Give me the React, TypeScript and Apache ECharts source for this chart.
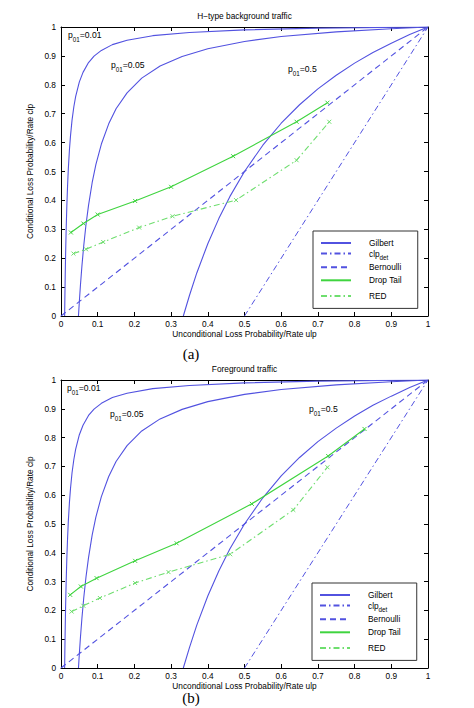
import React, { useEffect, useRef } from "react";
import * as echarts from "echarts";

// ---- data ----------------------------------------------------------------
type Pt = [number, number];

// Gilbert model curves (ulp, clp) for fixed p01
const gilbertP001: Pt[] = [
  [0.0099, 0], [0.0105, 0.058], [0.0115, 0.14], [0.0125, 0.21], [0.014, 0.296],
  [0.016, 0.385], [0.018, 0.454], [0.02, 0.51], [0.023, 0.575], [0.026, 0.625],
  [0.03, 0.677], [0.035, 0.724], [0.04, 0.76], [0.05, 0.81], [0.06, 0.843],
  [0.075, 0.877], [0.09, 0.899], [0.11, 0.919], [0.14, 0.939], [0.18, 0.954],
  [0.25, 0.97], [0.35, 0.981], [0.5, 0.99], [0.7, 0.996], [1, 1],
];
const gilbertP005: Pt[] = [
  [0.0476, 0], [0.05, 0.05], [0.053, 0.107], [0.057, 0.173], [0.062, 0.244],
  [0.068, 0.315], [0.075, 0.383], [0.085, 0.462], [0.095, 0.524], [0.11, 0.595],
  [0.13, 0.665], [0.15, 0.717], [0.18, 0.772], [0.22, 0.823], [0.27, 0.865],
  [0.33, 0.898], [0.4, 0.925], [0.5, 0.95], [0.6, 0.967], [0.75, 0.983],
  [0.9, 0.994], [1, 1],
];
const gilbertP05: Pt[] = [
  [0.3333, 0], [0.35, 0.071], [0.37, 0.149], [0.4, 0.25], [0.43, 0.337],
  [0.46, 0.413], [0.5, 0.5], [0.55, 0.591], [0.6, 0.667], [0.65, 0.731],
  [0.7, 0.786], [0.75, 0.833], [0.8, 0.875], [0.85, 0.912], [0.9, 0.944],
  [0.95, 0.974], [1, 1],
];
const clpDet: Pt[] = [[0.5, 0], [1, 1]];
const bernoulli: Pt[] = [[0, 0], [1, 1]];

// measured queues, H-type background traffic
const dropTailA: Pt[] = [
  [0.027, 0.289], [0.061, 0.32], [0.1, 0.351], [0.202, 0.398], [0.3, 0.447],
  [0.469, 0.553], [0.642, 0.672], [0.726, 0.738],
];
const redA: Pt[] = [
  [0.034, 0.216], [0.068, 0.231], [0.115, 0.256], [0.213, 0.306], [0.304, 0.345],
  [0.477, 0.401], [0.642, 0.539], [0.731, 0.672],
];
// measured queues, foreground traffic
const dropTailB: Pt[] = [
  [0.025, 0.254], [0.054, 0.283], [0.097, 0.312], [0.202, 0.372], [0.315, 0.433],
  [0.52, 0.57], [0.728, 0.736], [0.827, 0.83],
];
const redB: Pt[] = [
  [0.029, 0.196], [0.061, 0.216], [0.106, 0.243], [0.202, 0.295], [0.293, 0.333],
  [0.461, 0.395], [0.633, 0.549], [0.726, 0.697],
];

const panelTitles = ["H\u2212type background traffic", "Foreground traffic"];
const panelTags = ["(a)", "(b)"];
const legendNames = ["Gilbert", "clpdet", "Bernoulli", "Drop Tail", "RED"];
const xName = "Unconditional Loss Probability/Rate ulp";
const yName = "Conditional Loss Probability/Rate clp";

// ---- styling -------------------------------------------------------------
const FONT = '"Liberation Sans", Arial, Helvetica, sans-serif';
const SERIF = '"Liberation Serif", "DejaVu Serif", serif';
const FS = 8.3;
const BLUE = "#5252e0";
const GREEN = "#3fd43f";
const GREEN_LIGHT = "#6ede6e";
const CROSS = "path://M0 0L10 10M10 0L0 10";

const GRIDS = [
  { left: 61, top: 27, width: 367, height: 289 },
  { left: 61, top: 380, width: 367, height: 288 },
];

function xAxis(gridIndex: number, position: "top" | "bottom") {
  const main = position === "bottom";
  return {
    type: "value",
    gridIndex,
    position,
    min: 0,
    max: 1,
    interval: 0.1,
    axisLine: { show: true, onZero: false, lineStyle: { color: "#000", width: 1 } },
    axisTick: { show: true, inside: true, length: 4, lineStyle: { color: "#000" } },
    axisLabel: { show: main, margin: 4, fontSize: FS, color: "#000", fontFamily: FONT },
    splitLine: { show: false },
    name: main ? xName : "",
    nameLocation: "middle",
    nameGap: 14,
    nameTextStyle: { fontSize: FS, color: "#000", fontFamily: FONT },
  };
}

function yAxis(gridIndex: number, position: "left" | "right") {
  const main = position === "left";
  return {
    type: "value",
    gridIndex,
    position,
    min: 0,
    max: 1,
    interval: 0.1,
    axisLine: { show: true, onZero: false, lineStyle: { color: "#000", width: 1 } },
    axisTick: { show: true, inside: true, length: 4, lineStyle: { color: "#000" } },
    axisLabel: { show: main, margin: 5, fontSize: FS, color: "#000", fontFamily: FONT },
    splitLine: { show: false },
    name: main ? yName : "",
    nameLocation: "middle",
    nameGap: 17,
    nameTextStyle: { fontSize: FS, color: "#000", fontFamily: FONT },
  };
}

function panelSeries(panel: number, dropTail: Pt[], red: Pt[]) {
  const axes = { xAxisIndex: panel * 2, yAxisIndex: panel * 2 };
  const gilbert = (data: Pt[]) => ({
    type: "line",
    name: "Gilbert",
    ...axes,
    data,
    symbol: "none",
    lineStyle: { color: BLUE, width: 1.1 },
    itemStyle: { color: BLUE },
  });
  return [
    gilbert(gilbertP001),
    gilbert(gilbertP005),
    gilbert(gilbertP05),
    {
      type: "line",
      name: "clpdet",
      ...axes,
      data: clpDet,
      symbol: "none",
      lineStyle: { color: BLUE, width: 1, type: [6, 3, 1.5, 3] },
      itemStyle: { color: BLUE },
    },
    {
      type: "line",
      name: "Bernoulli",
      ...axes,
      data: bernoulli,
      symbol: "none",
      lineStyle: { color: BLUE, width: 1.1, type: [6, 4] },
      itemStyle: { color: BLUE },
    },
    {
      type: "line",
      name: "Drop Tail",
      ...axes,
      data: dropTail,
      symbol: CROSS,
      symbolSize: 4,
      showAllSymbol: true,
      lineStyle: { color: GREEN, width: 1.1 },
      itemStyle: { color: "none", borderColor: GREEN, borderWidth: 1 },
    },
    {
      type: "line",
      name: "RED",
      ...axes,
      data: red,
      symbol: CROSS,
      symbolSize: 4,
      showAllSymbol: true,
      lineStyle: { color: GREEN_LIGHT, width: 1.1, type: [6, 3, 1.5, 3] },
      itemStyle: { color: "none", borderColor: GREEN_LIGHT, borderWidth: 1 },
    },
  ];
}

function legend(left: number, top: number) {
  return {
    orient: "vertical",
    left,
    top,
    data: legendNames,
    itemWidth: 30,
    itemHeight: 10,
    itemGap: 2.6,
    padding: [8, 16, 6, 7],
    borderColor: "#333",
    borderWidth: 1,
    backgroundColor: "#fff",
    selectedMode: false,
    itemStyle: { opacity: 0 },
    textStyle: {
      fontSize: FS,
      color: "#000",
      fontFamily: FONT,
      padding: [0, 0, 0, 13],
      rich: {
        m: { fontSize: FS, fontFamily: FONT, color: "#000", lineHeight: 14 },
        s: {
          fontSize: 6.3,
          fontFamily: FONT,
          color: "#000",
          lineHeight: 7,
          verticalAlign: "bottom",
        },
      },
    },
    formatter: (name: string) => (name === "clpdet" ? "{m|clp}{s|det}" : name),
  };
}

// p01 annotation with subscript
function pLabel(x: number, y: number, value: string) {
  return {
    type: "text",
    x,
    y,
    style: {
      text: `{m|p}{s|01}{m|=${value}}`,
      fontFamily: FONT,
      verticalAlign: "middle",
      rich: {
        m: { fontSize: 8.6, fontFamily: FONT, fill: "#000", lineHeight: 14 },
        s: { fontSize: 6.3, fontFamily: FONT, fill: "#000", lineHeight: 7, verticalAlign: "bottom" },
      },
    },
  };
}

function tag(y: number, text: string) {
  return {
    type: "text",
    x: 191,
    y,
    style: {
      text,
      fontSize: 15,
      fontFamily: SERIF,
      fill: "#000",
      align: "center",
      verticalAlign: "middle",
    },
  };
}

export default function App() {
  const ref = useRef<HTMLDivElement>(null);

  useEffect(() => {
    if (!ref.current) return;
    const chart = echarts.init(ref.current, undefined, { renderer: "svg" });

    const option = {
      animation: false,
      backgroundColor: "#fff",
      title: GRIDS.map((g, i) => ({
        text: panelTitles[i],
        left: g.left + g.width / 2,
        textAlign: "center",
        top: g.top - 15,
        padding: 0,
        textStyle: { fontSize: FS, fontWeight: "normal", color: "#000", fontFamily: FONT },
      })),
      grid: GRIDS,
      xAxis: [xAxis(0, "bottom"), xAxis(0, "top"), xAxis(1, "bottom"), xAxis(1, "top")],
      yAxis: [yAxis(0, "left"), yAxis(0, "right"), yAxis(1, "left"), yAxis(1, "right")],
      legend: [legend(313, 231), legend(312, 583)],
      series: [...panelSeries(0, dropTailA, redA), ...panelSeries(1, dropTailB, redB)],
      graphic: [
        pLabel(68, 35, "0.01"),
        pLabel(111, 65, "0.05"),
        pLabel(288, 69, "0.5"),
        pLabel(67, 388, "0.01"),
        pLabel(110, 414, "0.05"),
        pLabel(309, 409, "0.5"),
        tag(354, panelTags[0]),
        tag(698, panelTags[1]),
      ],
    };

    chart.setOption(option as any);
    return () => chart.dispose();
  }, []);

  return (
    <div
      ref={ref}
      style={{ position: "absolute", left: 0, top: 0, width: 474, height: 708 }}
    />
  );
}
